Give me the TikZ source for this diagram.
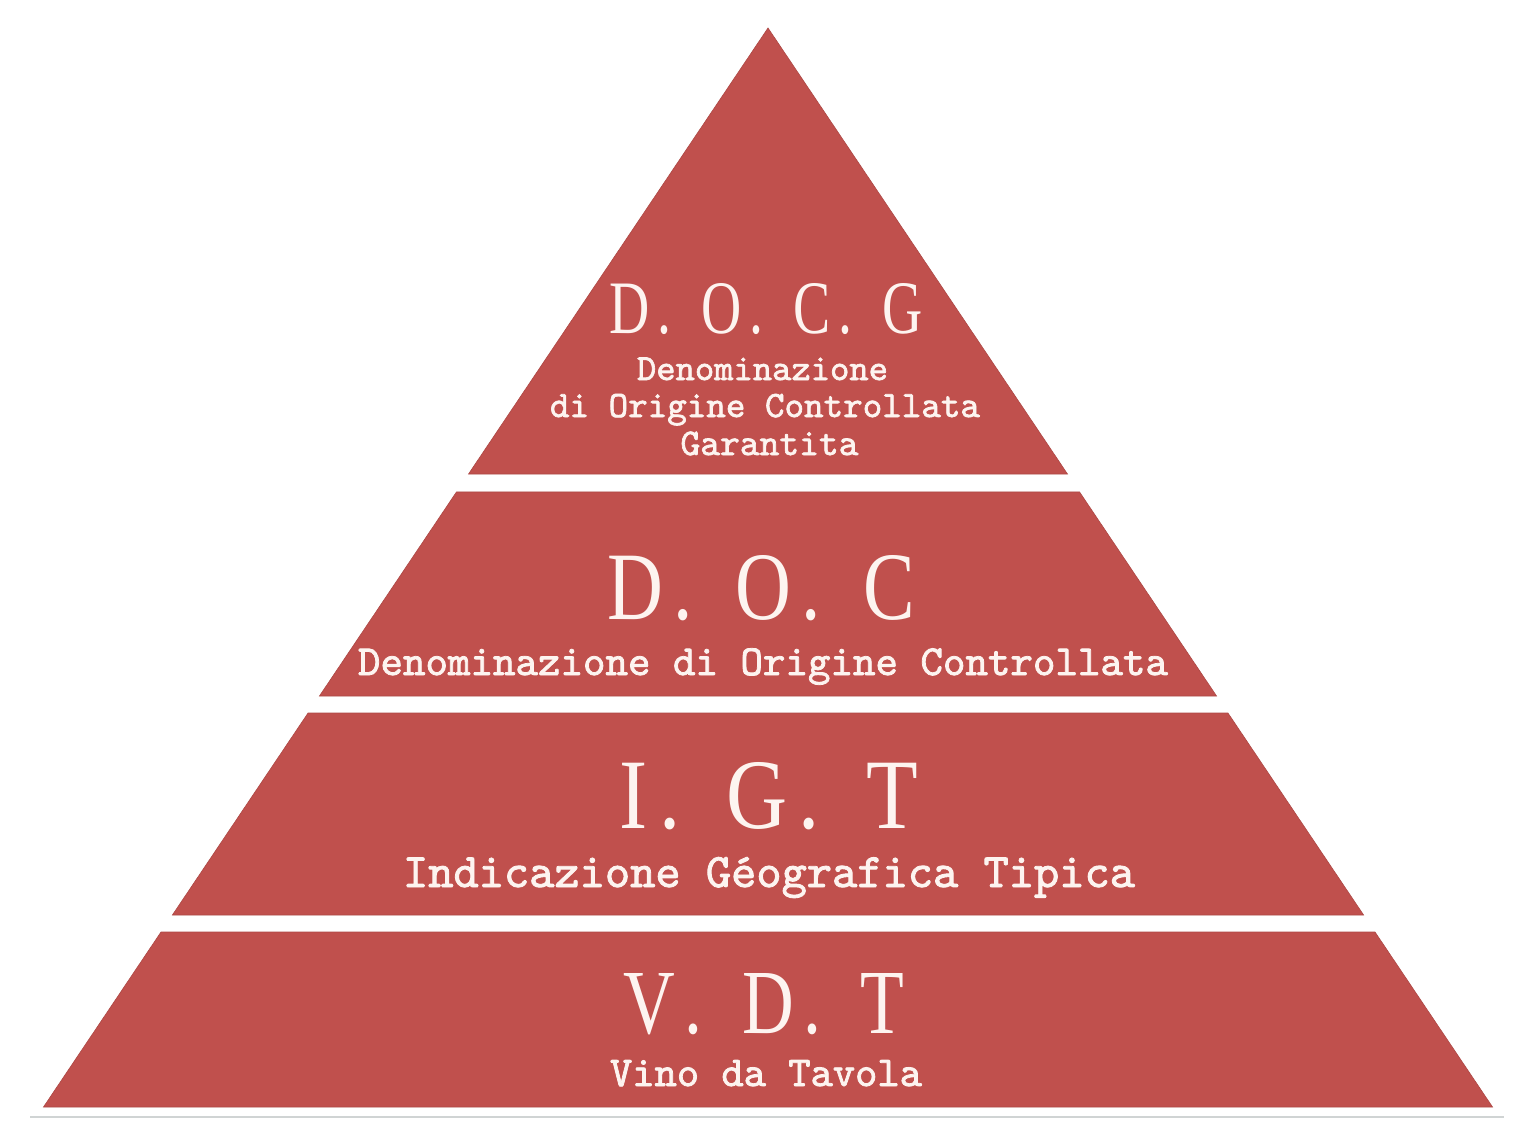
\documentclass[tikz,border=0pt]{standalone}
\usepackage{fontspec}
\usepackage{graphicx}
\newfontfamily\capfont{Liberation Serif}
\newfontfamily\subfont{Latin Modern Mono}[AutoFakeBold=1.8]
\usetikzlibrary{calc}
\definecolor{tierred}{RGB}{192,80,77}
\definecolor{labelwhite}{RGB}{253,244,240}
\definecolor{shadowgray}{RGB}{208,212,212}
\tikzset{
  tier/.style={fill=tierred, draw=tierred!90!black, line width=0.6pt, line join=miter},
  captext/.style={anchor=base, inner sep=0pt, text=labelwhite, font=\capfont},
  subtext/.style={anchor=base, inner sep=0pt, text=labelwhite, font=\subfont\bfseries},
}
\newcommand\mycapbox[3]{\resizebox{#1pt}{#2pt}{#3}}
\newcommand\mysubbox[2]{\resizebox{#1pt}{!}{#2}}
\newcommand\gp{\hspace{0.3em}}
\newcommand\dt{\kern0.13em.}
\begin{document}
\begin{tikzpicture}[x=1pt,y=-1pt]
\path[use as bounding box, fill=white] (0,0) rectangle (1536,1145);
\coordinate (apex) at (768,28);
\coordinate (bl) at (43.5,1107);
\coordinate (br) at (1492.5,1107);
% tier corners along the two sides
\coordinate (t1l) at ($(apex)!0.41335!(bl)$);
\coordinate (t1r) at ($(apex)!0.41335!(br)$);
\coordinate (t2tl) at ($(apex)!0.43003!(bl)$);
\coordinate (t2tr) at ($(apex)!0.43003!(br)$);
\coordinate (t2bl) at ($(apex)!0.61909!(bl)$);
\coordinate (t2br) at ($(apex)!0.61909!(br)$);
\coordinate (t3tl) at ($(apex)!0.63485!(bl)$);
\coordinate (t3tr) at ($(apex)!0.63485!(br)$);
\coordinate (t3bl) at ($(apex)!0.82206!(bl)$);
\coordinate (t3br) at ($(apex)!0.82206!(br)$);
\coordinate (t4tl) at ($(apex)!0.83781!(bl)$);
\coordinate (t4tr) at ($(apex)!0.83781!(br)$);
\coordinate (shl) at (30,1117);
\coordinate (shr) at (1504,1117);
% faint base shadow
\draw[shadowgray, line width=2pt] (shl) -- (shr);
% tiers
\path[tier] (apex) -- (t1r) -- (t1l) -- cycle;
\path[tier] (t2tl) -- (t2tr) -- (t2br) -- (t2bl) -- cycle;
\path[tier] (t3tl) -- (t3tr) -- (t3br) -- (t3bl) -- cycle;
\path[tier] (t4tl) -- (t4tr) -- (br) -- (bl) -- cycle;
% labels
\node[captext] (docg) at (766.5,333) {\mycapbox{313}{50}{D\dt{} \gp O\dt{} \gp C\dt{} \gp G}};
\node[subtext] (docg1) at (762.5,380) {\mysubbox{251}{Denominazione}};
\node[subtext] (docg2) at (765,417) {\mysubbox{430}{di Origine Controllata}};
\node[subtext] (docg3) at (769.5,455) {\mysubbox{178}{Garantita}};
\node[captext] (doc) at (761.5,619) {\mycapbox{307}{64}{D\dt{} \gp O\dt{} \gp C}};
\node[subtext] (doc1) at (763,675) {\mysubbox{810}{Denominazione di Origine Controllata}};
\node[captext] (igt) at (769,828) {\mycapbox{298}{66}{I\dt{} \gp G\dt{} \gp T}};
\node[subtext] (igt1) at (769,887) {\mysubbox{732}{Indicazione Géografica Tipica}};
\node[captext] (vdt) at (764,1033) {\mycapbox{280}{60}{V\dt{} \gp D\dt{} \gp T}};
\node[subtext] (vdt1) at (766,1086) {\mysubbox{312}{Vino da Tavola}};
\end{tikzpicture}
\end{document}
